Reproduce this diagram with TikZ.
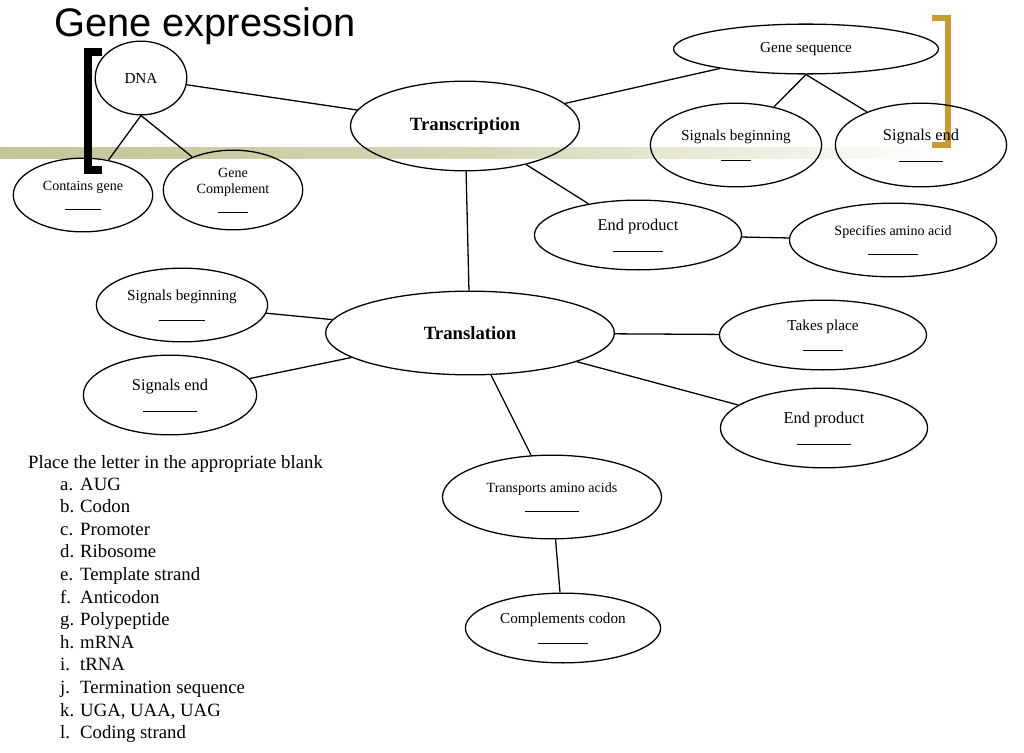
\documentclass[tikz,border=0pt]{standalone}
\usepackage{fontspec}
\setmainfont{Liberation Serif}
\newfontfamily\titlesans{Liberation Sans}
\usetikzlibrary{shapes.geometric}
\definecolor{bandOlive}{RGB}{196,196,150}
\definecolor{bracketGold}{RGB}{200,155,50}
\newcommand{\blank}[1]{\\[2pt]\rule{#1}{0.4pt}}
\begin{document}
\begin{tikzpicture}[x=0.03cm,y=-0.03cm,
    bub/.style 2 args={ellipse, draw, line width=1.1pt, inner sep=0pt, align=center, font=\fontsize{13}{15}\selectfont,
      minimum width=0.85*#1pt, minimum height=0.85*#2pt},
    link/.style={line width=1.1pt},
    item/.style={anchor=base west, font=\fontsize{16}{18}\selectfont, inner sep=0pt}
  ]
  \useasboundingbox (0,0) rectangle (1024,753);
  % band
  \shade[left color=bandOlive, right color=white, middle color=bandOlive!70] (0,147) rectangle (950,158);
  % title and brackets
  \node[anchor=base west, inner sep=0pt, font=\titlesans\fontsize{34}{37}\selectfont] (title) at (54,36) {Gene expression};
  \draw[line width=6pt] (102,52) -- (88,52) -- (88,170) -- (102,170);
  \draw[line width=5pt, bracketGold] (932,18) -- (948,18) -- (948,145) -- (932,145);

  % ellipses
  \node[bub={92}{74}] (dna) at (141,78) {DNA};
  \node[bub={230}{90}, font=\bfseries\fontsize{16}{18}\selectfont] (tsc) at (465,126) {Transcription};
  \node[bub={266}{50}] (gseq) at (806,49) {Gene sequence};
  \node[bub={172}{84}] (sbt) at (736,145) {Signals beginning\blank{0.9cm}};
  \node[bub={172}{84}, font=\fontsize{14}{16}\selectfont] (set) at (921,145) {Signals end\blank{1.3cm}};
  \node[bub={140}{74}, font=\fontsize{12}{14}\selectfont] (cg) at (83,195) {Contains gene\blank{1.1cm}};
  \node[bub={140}{80}, font=\fontsize{12}{14}\selectfont] (gc) at (233,190) {Gene\\Complement\blank{0.9cm}};
  \node[bub={208}{70}, font=\fontsize{14}{16}\selectfont] (ep1) at (638,235) {End product\blank{1.5cm}};
  \node[bub={208}{74}, font=\fontsize{12}{14}\selectfont] (saa) at (893,240) {Specifies amino acid\blank{1.5cm}};
  \node[bub={172}{74}] (sbl) at (182,305) {Signals beginning\blank{1.4cm}};
  \node[bub={290}{84}, font=\bfseries\fontsize{16}{18}\selectfont] (tsl) at (470,333) {Translation};
  \node[bub={208}{70}] (tp) at (823,335) {Takes place\blank{1.2cm}};
  \node[bub={174}{80}, font=\fontsize{14}{16}\selectfont] (sel) at (170,395) {Signals end\blank{1.6cm}};
  \node[bub={208}{80}, font=\fontsize{14}{16}\selectfont] (ep2) at (824,428) {End product\blank{1.6cm}};
  \node[bub={220}{84}, font=\fontsize{12}{14}\selectfont] (taa) at (552,497) {Transports amino acids\blank{1.6cm}};
  \node[bub={196}{70}] (cc) at (563,628) {Complements codon\blank{1.5cm}};

  % connectors
  \coordinate (dnab) at (dna.south);
  \coordinate (gseqb) at (gseq.south);
  \draw[link] (dna) -- (tsc);
  \draw[link] (dnab) -- (cg);
  \draw[link] (dnab) -- (gc);
  \draw[link] (tsc) -- (gseq);
  \draw[link] (gseqb) -- (sbt);
  \draw[link] (gseqb) -- (set);
  \draw[link] (tsc) -- (ep1);
  \draw[link] (ep1) -- (saa);
  \draw[link] (tsc) -- (tsl);
  \draw[link] (tsl) -- (sbl);
  \draw[link] (tsl) -- (sel);
  \draw[link] (tsl) -- (tp);
  \draw[link] (tsl) -- (ep2);
  \draw[link] (tsl) -- (taa);
  \draw[link] (taa) -- (cc);

  % legend
  \node[item] (lhead) at (28,468) {Place the letter in the appropriate blank};
  \foreach \l/\t [count=\i from 0] in {a/AUG, b/Codon, c/Promoter, d/Ribosome, e/Template strand, f/Anticodon, g/Polypeptide, h/mRNA, i/tRNA, j/Termination sequence, k/{UGA, UAA, UAG}, l/Coding strand}{
    \node[item] (let\i) at (60,490+\i*22.6) {\l.};
    \node[item] (itm\i) at (80,490+\i*22.6) {\t};
  }
\end{tikzpicture}
\end{document}
